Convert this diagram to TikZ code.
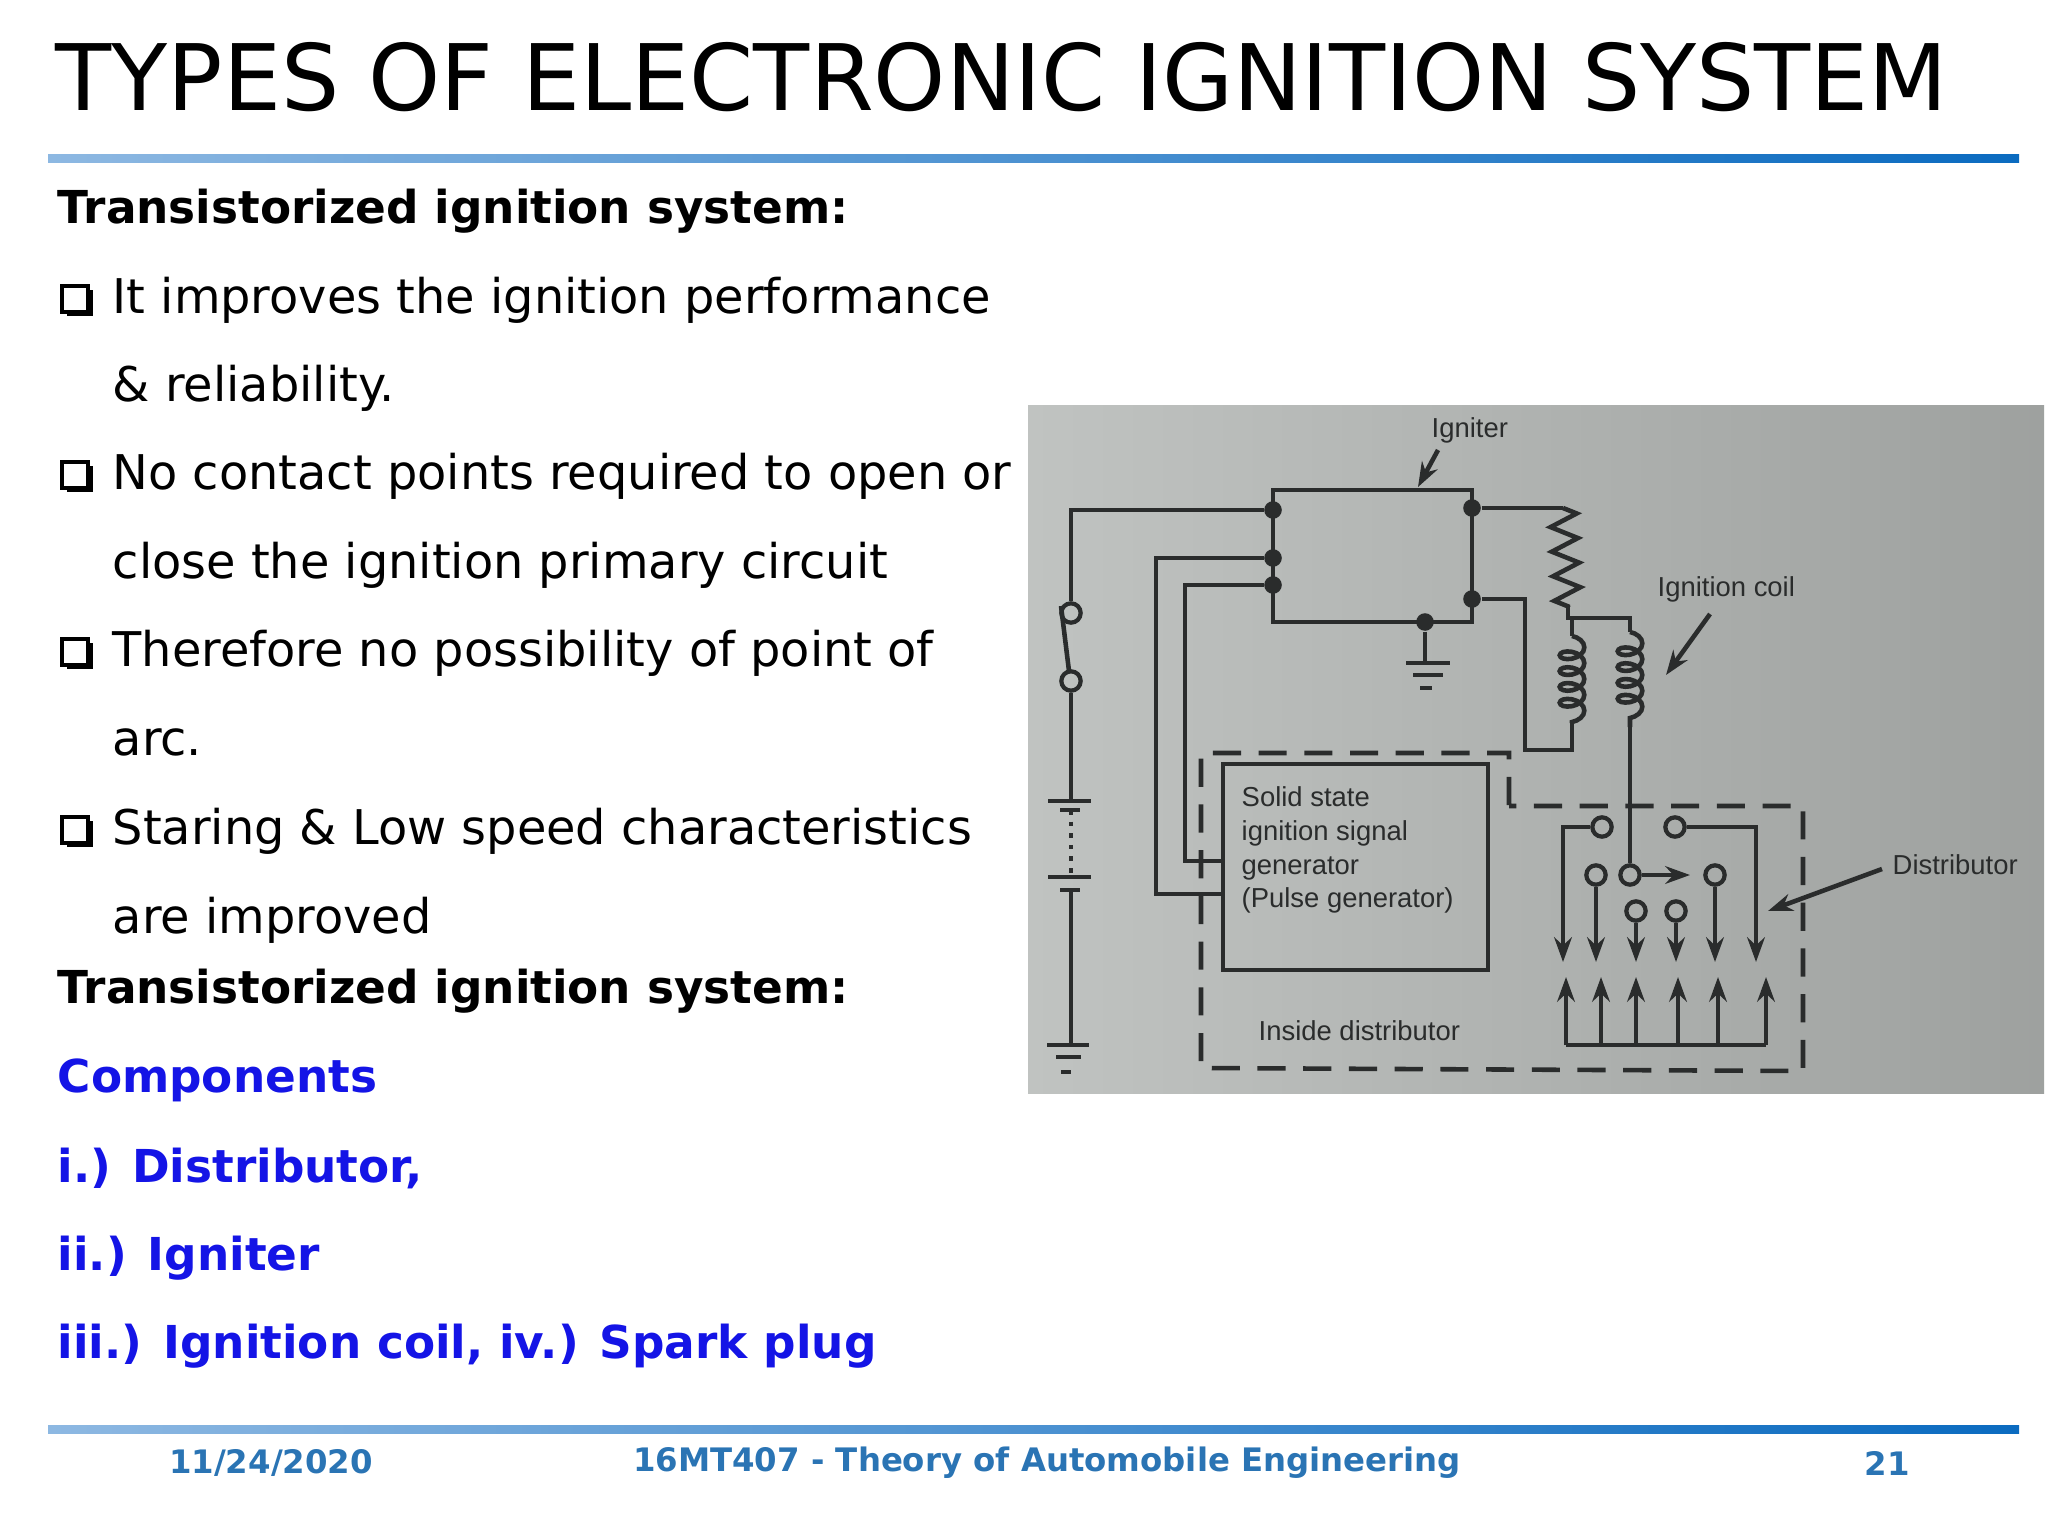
\documentclass[tikz,border=0pt]{standalone}
\usepackage{fontspec}
\setmainfont{DejaVu Sans}
\newfontfamily\arialf{Liberation Sans}
\usetikzlibrary{decorations.pathmorphing,arrows.meta,calc}
\definecolor{bluetxt}{HTML}{1414E6}
\definecolor{foot}{HTML}{2A74B4}
\definecolor{wire}{HTML}{2A2C2C}
\definecolor{lnA}{HTML}{8DB8E2}
\definecolor{lnB}{HTML}{D3E2F4}
\definecolor{lnC}{HTML}{0B6BC0}
\tikzset{
  body/.style={anchor=west,font=\fontsize{13.6}{15}\selectfont,inner sep=0},
  head/.style={body,font=\fontsize{12.9}{15}\selectfont\bfseries},
  bl/.style={head,text=bluetxt},
  ft/.style={font=\fontsize{9.2}{11}\selectfont\bfseries,text=foot,inner sep=0},
  w/.style={draw=wire,line width=1.3pt},
  dl/.style={draw=wire,line width=1.3pt,dash pattern=on 8pt off 5pt},
  dot/.style={circle,fill=wire,inner sep=0,minimum size=5pt},
  term/.style={circle,draw=wire,line width=1.2pt,fill=none,inner sep=0,minimum size=5.5pt},
  lbl/.style={font=\arialf\fontsize{7.8}{9.4}\selectfont,text=wire,inner sep=0},
  arr/.style={w,-{Stealth[length=7pt,width=5pt]}},
  coilst/.style={w,decorate,decoration={coil,aspect=0.6,segment length=4.5pt,amplitude=3.5pt}}
}
\newcommand{\bulletbox}[2]{%
  \fill[black] (#1+5,#2-10) rectangle (#1+31,#2+16);
  \draw[line width=1.1pt,fill=white] (#1,#2-14) rectangle (#1+26,#2+12);}
\begin{document}
\begin{tikzpicture}[x=0.01cm,y=-0.01cm]
\useasboundingbox (0,0) rectangle (2048,1536);
\fill[white] (0,0) rectangle (2048,1536);
% title
\node[anchor=base west,inner sep=0,font=\fontsize{26.1}{30}\selectfont] (title) at (55,110) {TYPES OF ELECTRONIC IGNITION SYSTEM};
\shade[left color=lnA,middle color=lnB,right color=lnC] (48,154) rectangle (2019,162);
\shade[left color=lnA,middle color=lnB,right color=lnC] (48,1425) rectangle (2019,1433);
% left text
\node[head] (h1) at (57,211) {Transistorized ignition system:};
\bulletbox{62}{300}
\bulletbox{62}{476}
\bulletbox{62}{653}
\bulletbox{62}{831}
\node[body] (t1) at (112,300) {It improves the ignition performance};
\node[body] (t2) at (112,388) {\& reliability.};
\node[body] (t3) at (112,476) {No contact points required to open or};
\node[body] (t4) at (112,565) {close the ignition primary circuit};
\node[body] (t5) at (112,653) {Therefore no possibility of point of};
\node[body] (t6) at (112,742) {arc.};
\node[body] (t7) at (112,831) {Staring \& Low speed characteristics};
\node[body] (t8) at (112,920) {are improved};
\node[head] (h2) at (57,991) {Transistorized ignition system:};
\node[bl] (c0) at (57,1080) {Components};
\node[bl] (c1) at (57,1168) {i.) Distributor,};
\node[bl] (c2) at (57,1258) {ii.) Igniter};
\node[bl] (c3) at (57,1346) {iii.) Ignition coil, iv.) Spark plug};
% footer
\node[ft] (f1) at (271,1463) {11/24/2020};
\node[ft] (f2) at (1047,1463) {16MT407 - Theory of Automobile Engineering};
\node[ft] (f3) at (1887,1463) {21};
% diagram background
\shade[left color={rgb,255:red,192;green,195;blue,193},right color={rgb,255:red,158;green,161;blue,159}] (1028,405) rectangle (2044,1093);
% igniter
\draw[w] (1273,490) rectangle (1472,622);
\node[dot] (d1) at (1273,510) {};
\node[dot] (d2) at (1273,558) {};
\node[dot] (d3) at (1273,585) {};
\node[dot] (d4) at (1472,508) {};
\node[dot] (d5) at (1472,599) {};
\node[dot] (d6) at (1425,622) {};
\node[lbl,anchor=west] (ign) at (1431,430) {Igniter};
\draw[arr] (1438,450) -- (1418,487);
% ground under igniter
\draw[w] (d6) -- (1425,663);
\draw[w] (1406,663) -- (1450,663) (1413,675) -- (1443,675) (1420,688) -- (1432,688);
% battery branch
\node[term] (s1) at (1071,613) {};
\node[term] (s2) at (1071,681) {};
\draw[w] (d1) -- (1071,510) -- (s1.north);
\draw[w] (1061,606) -- (1069,671);
\draw[w] (s2.south) -- (1071,801);
\draw[w] (1048,801) -- (1091,801) (1060,810) -- (1080,810);
\draw[wire,line width=1.3pt,dotted] (1071,810) -- (1071,877);
\draw[w] (1048,877) -- (1091,877) (1060,890) -- (1080,890);
\draw[w] (1071,890) -- (1071,1045);
\draw[w] (1047,1045) -- (1089,1045) (1056,1057) -- (1081,1057) (1061,1072) -- (1071,1072);
% pulse generator
\draw[w] (1223,764) rectangle (1488,970);
\node[lbl,anchor=north west,align=left,font=\arialf\fontsize{7.8}{9.6}\selectfont] (pg) at (1241,786) {Solid state\\ignition signal\\generator\\(Pulse generator)};
\draw[w] (d2) -- (1156,558) -- (1156,894) -- (1223,894);
\draw[w] (d3) -- (1185,585) -- (1185,861) -- (1223,861);
% dashed box
\draw[dl] (1509,805) -- (1509,753) -- (1201,753) -- (1201,1068) -- (1803,1071) -- (1803,806) -- (1509,806);
\node[lbl,anchor=west] (ins) at (1258,1031) {Inside distributor};
% coil wires
\draw[w] (d4) -- (1563,508);
\draw[w,decorate,decoration={zigzag,segment length=7pt,amplitude=3.8pt}] (1563,508) -- (1568,607);
\draw[w] (1568,607) -- (1568,618) -- (1630,618) -- (1630,632);
\draw[w] (1572,618) -- (1572,636);
\draw[coilst] (1572,636) -- (1572,723);
\draw[w] (1572,723) -- (1572,750) -- (1525,750) -- (1525,599) -- (d5);
\draw[coilst] (1630,632) -- (1630,727);
\node[term] (rot) at (1630,875) {};
\draw[w] (1630,727) -- (rot.north);
\node[lbl,anchor=west] (ic) at (1657,589) {Ignition coil};
\draw[arr] (1710,614) -- (1666,675);
% distributor
\node[term] (p1) at (1602,827) {};
\node[term] (p2) at (1675,827) {};
\node[term] (m1) at (1596,875) {};
\node[term] (m3) at (1715,875) {};
\node[term] (l1) at (1636,911) {};
\node[term] (l2) at (1676,911) {};
\draw[arr] (rot.east) -- (1690,875);
\draw[arr] (p1.west) -- (1563,827) -- (1563,962);
\draw[arr] (p2.east) -- (1756,827) -- (1756,962);
\foreach \n in {m1,m3,l1,l2}{ \draw[arr] (\n.south) -- (\n.south |- 0,962); }
\draw[w] (1566,1045) -- (1766,1045);
\foreach \x in {1566,1601,1636,1678,1718,1766}{ \draw[arr] (\x,1045) -- (\x,977); }
\node[lbl,anchor=west] (dist) at (1892,865) {Distributor};
\draw[arr] (1882,869) -- (1768,911);
\end{tikzpicture}
\end{document}
